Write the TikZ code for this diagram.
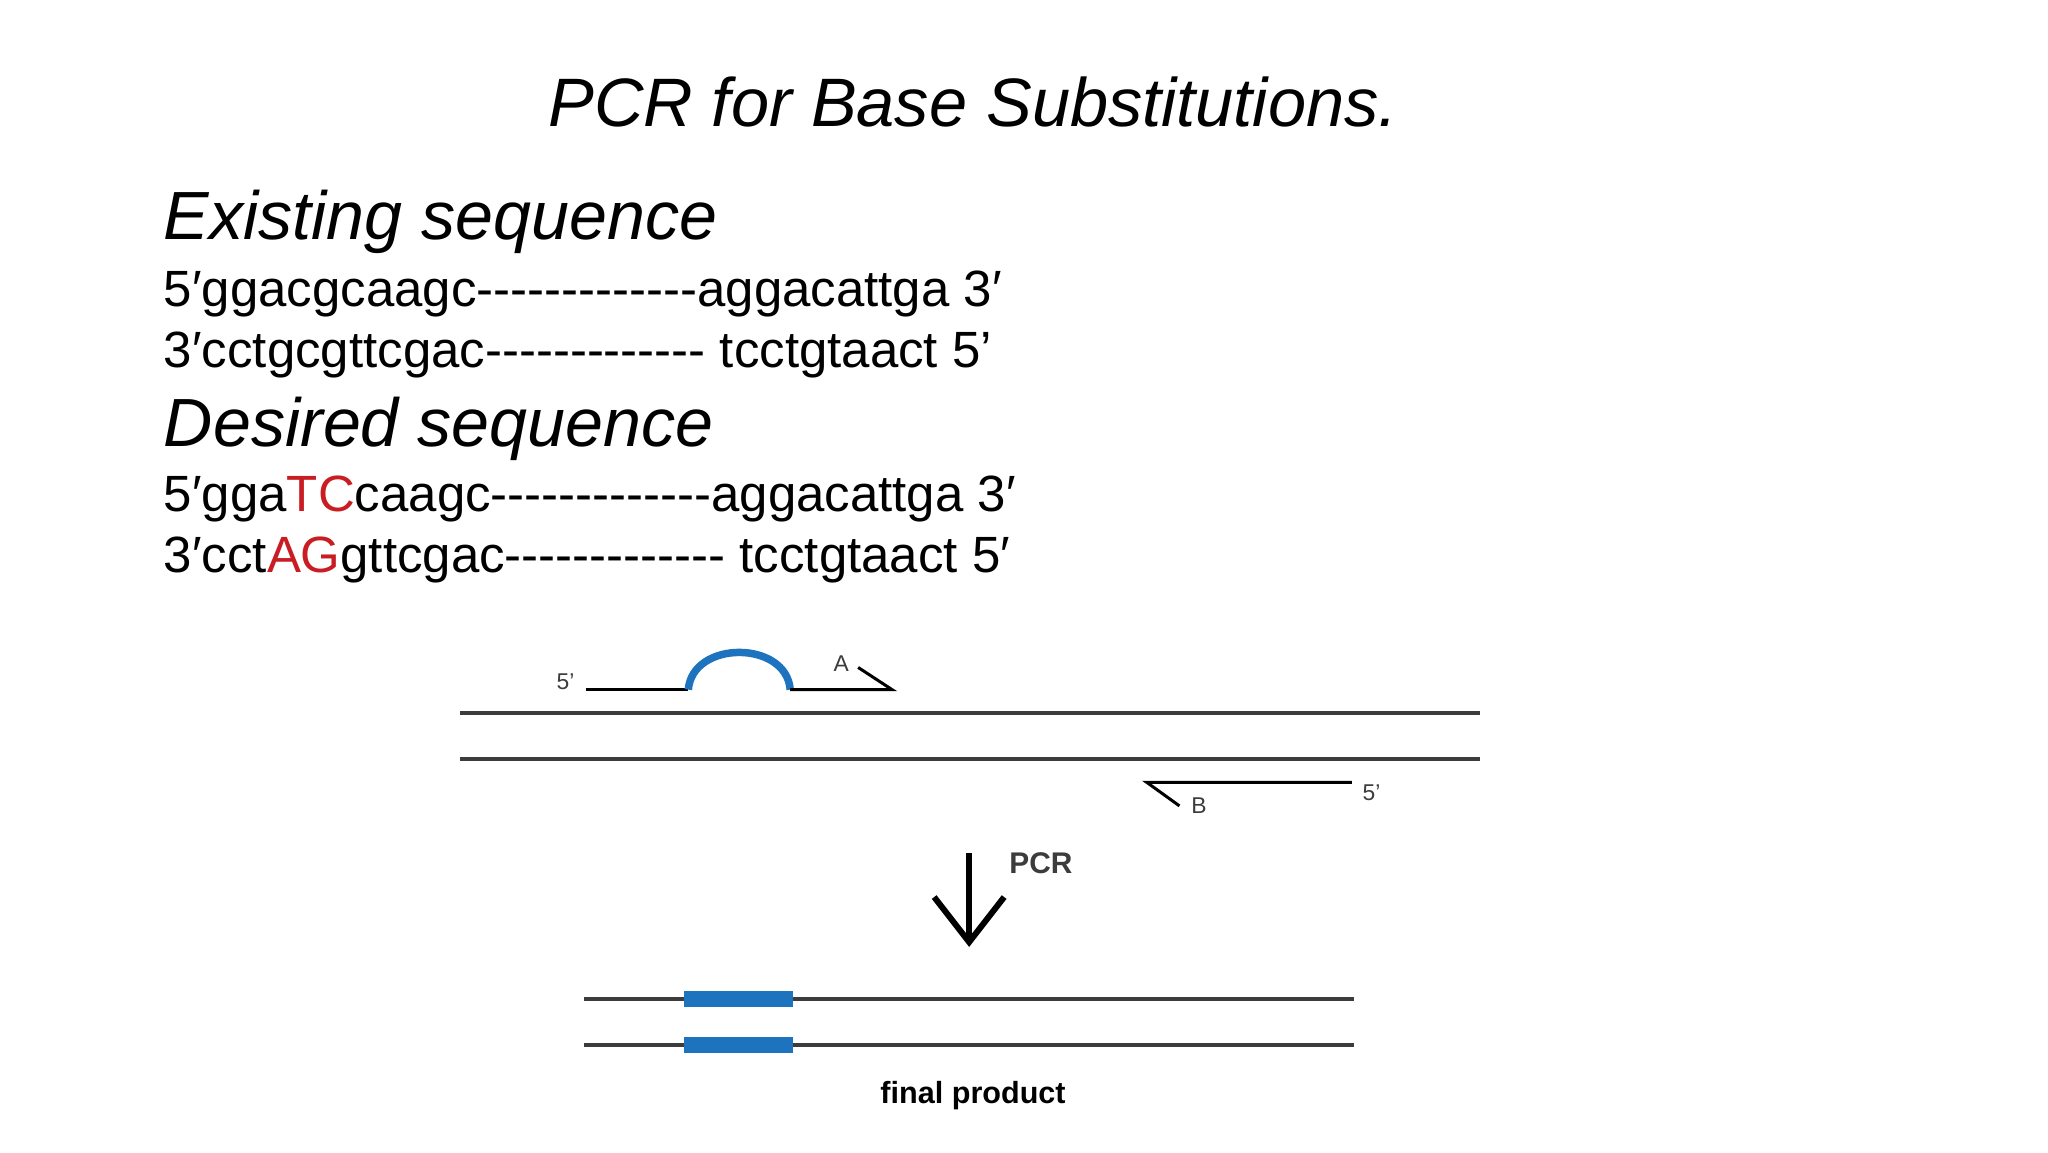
\documentclass[tikz,border=0pt]{standalone}
\usepackage{fontspec}
\setmainfont{Liberation Sans}
\usetikzlibrary{arrows.meta}
\definecolor{mred}{RGB}{200,30,35}
\definecolor{mblue}{RGB}{30,115,190}
\definecolor{strand}{RGB}{60,60,60}
\newcommand{\hy}{\mbox{-}}
\newcommand{\dashrow}{\hy\hy\hy\hy\hy\hy\hy\hy\hy\hy\hy\hy\hy}
\begin{document}
\begin{tikzpicture}[x=0.1306mm,y=-0.1306mm,
  seq/.style={anchor=west,inner sep=0,font=\fontsize{14.5}{16}\selectfont},
  head/.style={anchor=west,inner sep=0,font=\fontsize{19.4}{22}\selectfont\itshape},
  lbl/.style={inner sep=0,font=\fontsize{6.5}{7}\selectfont,text=strand},
  dna/.style={strand,line width=0.45mm},
  pr/.style={black,line width=0.3mm}]
\useasboundingbox (0,0) rectangle (1568,882);
\node[inner sep=0,font=\fontsize{19.5}{24}\selectfont\itshape] (title) at (745,78) {PCR for Base Substitutions.};
\node[head] (h1) at (125,170) {Existing sequence};
\node[seq] (s1) at (125,225) {5′ggacgcaagc\dashrow aggacattga 3′};
\node[seq] (s2) at (125,272) {3′cctgcgttcgac\dashrow{} tcctgtaact 5’};
\node[head] (h2) at (125,328) {Desired sequence};
\node[seq] (s3) at (125,382) {5′gga\textcolor{mred}{TC}caagc\dashrow aggacattga 3′};
\node[seq] (s4) at (125,429) {3′cct\textcolor{mred}{AG}gttcgac\dashrow{} tcctgtaact 5′};
% template strands
\coordinate (t1a) at (352,546); \coordinate (t1b) at (1133,546);
\coordinate (t2a) at (352,581); \coordinate (t2b) at (1133,581);
\draw[dna] (t1a) -- (t1b);
\draw[dna] (t2a) -- (t2b);
% primer A
\coordinate (a0) at (449,528); \coordinate (a1) at (527,528);
\coordinate (a2) at (605,528); \coordinate (a3) at (683,528); \coordinate (a4) at (657,511);
\draw[pr] (a0) -- (a1);
\draw[mblue,line width=0.75mm] (a1) .. controls (530,490) and (602,490) .. (a2);
\draw[pr] (a2) -- (a3) -- (a4);
\node[lbl] (a5) at (433,522) {5'};
\node[lbl] (aA) at (644,508) {A};
% primer B
\coordinate (b0) at (1035,599); \coordinate (b1) at (878,599); \coordinate (b2) at (903,617);
\draw[pr] (b0) -- (b1) -- (b2);
\node[lbl] (bB) at (918,617) {B};
\node[lbl] (b5) at (1050,607) {5'};
% arrow
\coordinate (p0) at (742,653); \coordinate (p1) at (742,725);
\draw[black,line width=0.6mm,-{Straight Barb[length=4.5mm,width=7mm,line width=0.6mm]}] (p0) -- (p1);
\node[inner sep=0,font=\fontsize{8.5}{9}\selectfont\bfseries,text=strand] (pcr) at (797,661) {PCR};
% product
\coordinate (f1a) at (447,765); \coordinate (f1b) at (1037,765);
\coordinate (f2a) at (447,800); \coordinate (f2b) at (1037,800);
\draw[dna,line width=0.4mm] (f1a) -- (f1b);
\draw[dna,line width=0.4mm] (f2a) -- (f2b);
\fill[mblue] (524,759) rectangle (607,771);
\fill[mblue] (524,794) rectangle (607,806);
\node[inner sep=0,font=\fontsize{8.7}{9}\selectfont\bfseries] (fp) at (745,839) {final product};
\end{tikzpicture}
\end{document}
